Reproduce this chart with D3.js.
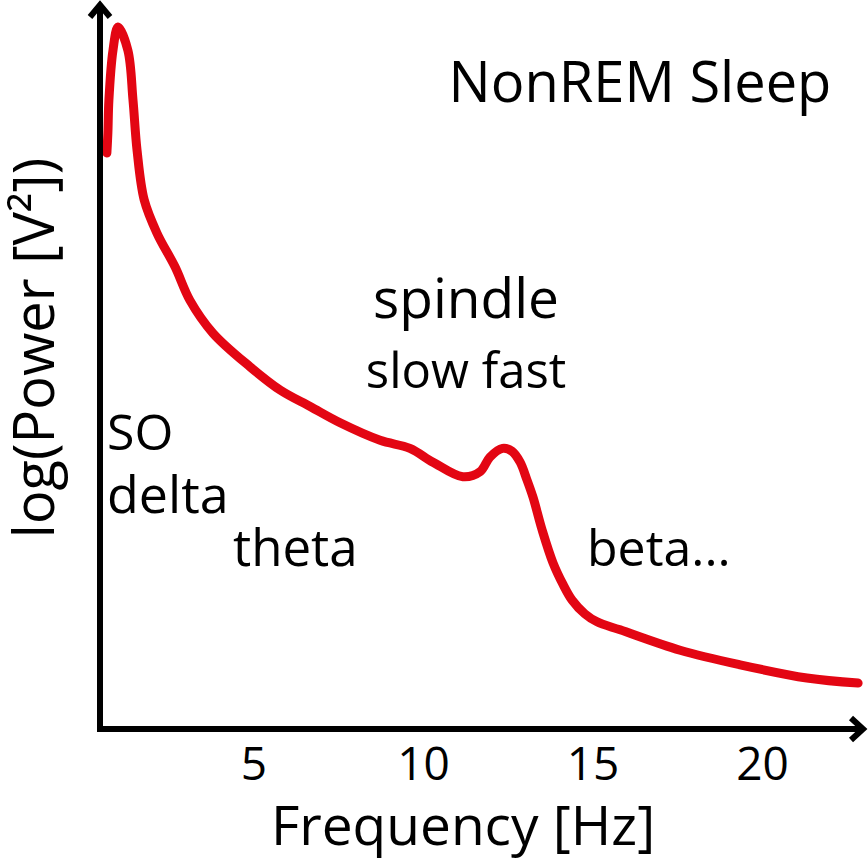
<!DOCTYPE html>
<html>
<head>
<meta charset="utf-8">
<script src="https://cdn.jsdelivr.net/npm/d3@7"></script>
<style>
  html, body { margin: 0; padding: 0; background: #fff; }
  text { font-family: "Open Sans", "Noto Sans", sans-serif; fill: #000; }
</style>
</head>
<body>
<div id="chart"></div>
<script>
// schematic NonREM sleep power spectrum
const freq = [0.66, 0.69, 0.72, 0.84, 0.99, 1.28, 1.43, 1.55, 1.76, 2.14, 2.67, 3.11,
  3.79, 4.88, 5.77, 6.67, 7.54, 8.72, 9.60, 10.28, 11.16, 11.67, 11.96, 12.33, 12.61,
  12.85, 13.05, 13.23, 13.50, 13.82, 14.12, 14.38, 14.76, 15.12, 15.80, 17.57, 19.34,
  21.31, 22.82];
const power = [7.90, 8.18, 8.63, 9.31, 9.63, 9.31, 8.63, 7.94, 7.26, 6.80, 6.34, 5.88,
  5.43, 4.97, 4.65, 4.42, 4.20, 3.96, 3.85, 3.66, 3.46, 3.53, 3.73, 3.85, 3.81,
  3.66, 3.42, 3.18, 2.73, 2.28, 1.98, 1.77, 1.58, 1.47, 1.36, 1.08, 0.88,
  0.70, 0.63];
const tickValues = [5, 10, 15, 20];
const bandLabels = ['SO', 'delta', 'theta', 'spindle', 'slow fast', 'beta...'];
const title = 'NonREM Sleep';
const xTitle = 'Frequency [Hz]';
const yTitle = 'log(Power [V\u00b2])';

const width = 868;
const height = 864;

const svg = d3.select('#chart').append('svg')
  .attr('width', width)
  .attr('height', height);

const x = d3.scaleLinear()
  .domain([0, 20])
  .range([84.5, 762.5]);
const y = d3.scaleLinear()
  .domain([0, 10])
  .range([729, 0]);

const originX = 100;
const originY = y(0);
const red = '#e30613';

// curve
const data = freq.map((f, i) => ({f: f, p: power[i]}));
const line = d3.line()
  .x(d => x(d.f))
  .y(d => y(d.p))
  .curve(d3.curveCatmullRom.alpha(0.5));

svg.append('path')
  .datum(data)
  .attr('d', line)
  .attr('fill', 'none')
  .attr('stroke', red)
  .attr('stroke-width', 9)
  .attr('stroke-linecap', 'round')
  .attr('stroke-linejoin', 'round');

// axes with arrow heads
const axes = svg.append('g')
  .attr('fill', 'none')
  .attr('stroke', '#000')
  .attr('stroke-width', 6);
axes.append('path').attr('d', `M${originX},${originY + 3}V4`);
axes.append('path').attr('d', `M${originX - 3},${originY}H864`);
axes.append('path')
  .attr('d', `M${originX - 10},17L${originX},5L${originX + 10},17`)
  .attr('stroke-linejoin', 'miter');
axes.append('path')
  .attr('d', `M851,${originY - 11}L863,${originY}L851,${originY + 11}`)
  .attr('stroke-linejoin', 'miter');

// tick labels
svg.append('g').selectAll('text')
  .data(tickValues)
  .join('text')
  .attr('x', d => x(d))
  .attr('y', 780)
  .attr('text-anchor', 'middle')
  .attr('font-size', 46)
  .text(d => d);

// titles
svg.append('text')
  .attr('x', 463)
  .attr('y', 845)
  .attr('text-anchor', 'middle')
  .attr('font-size', 55)
  .text(xTitle);

svg.append('text')
  .attr('transform', 'translate(54,348) rotate(-90)')
  .attr('text-anchor', 'middle')
  .attr('font-size', 56)
  .text(yTitle);

svg.append('text')
  .attr('x', 640)
  .attr('y', 102)
  .attr('text-anchor', 'middle')
  .attr('font-size', 56)
  .text(title);

// band annotations: x, baseline, anchor, size
const labelPos = [
  [107, 450, 'start', 50],
  [107, 513, 'start', 52],
  [233, 566, 'start', 51],
  [466, 318, 'middle', 55],
  [466, 388, 'middle', 49],
  [587, 566, 'start', 50]
];
svg.append('g').selectAll('text')
  .data(bandLabels)
  .join('text')
  .attr('x', (d, i) => labelPos[i][0])
  .attr('y', (d, i) => labelPos[i][1])
  .attr('text-anchor', (d, i) => labelPos[i][2])
  .attr('font-size', (d, i) => labelPos[i][3])
  .text(d => d);
</script>
</body>
</html>
